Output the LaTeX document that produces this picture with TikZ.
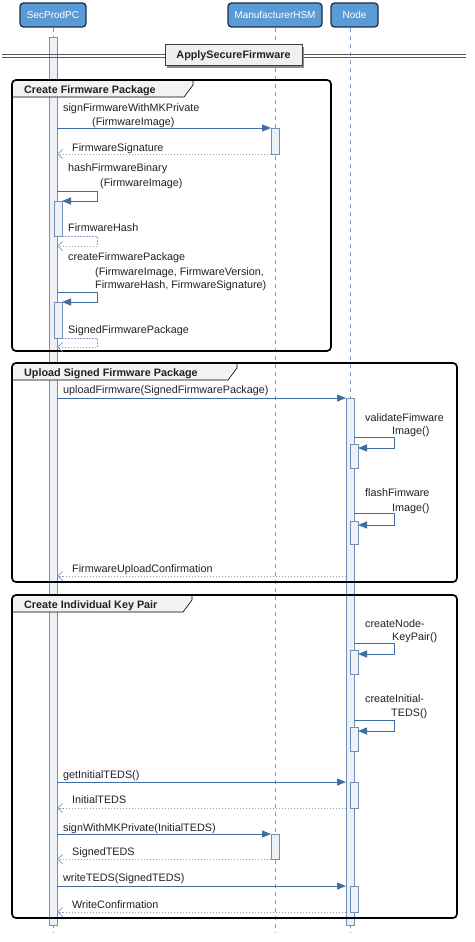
\documentclass[tikz,border=0pt]{standalone}
\usepackage{fontspec}
\setmainfont{Liberation Sans}
\usetikzlibrary{arrows.meta}
\definecolor{hdrfill}{HTML}{5B9BD5}
\definecolor{hdrdraw}{HTML}{1C324D}
\definecolor{life}{HTML}{7E9BC0}
\definecolor{actfill}{HTML}{EDF0F4}
\definecolor{actdraw}{HTML}{7190B8}
\definecolor{msg}{HTML}{3F6E9F}
\definecolor{ret}{HTML}{8AA3C4}
\definecolor{tabfill}{HTML}{F2F2F2}
\definecolor{lbltext}{HTML}{222222}
\definecolor{titlefill}{HTML}{EFEFEF}
\tikzset{
 hdr/.style={draw=hdrdraw, line width=1.3pt, fill=hdrfill, rounded corners=3.5pt, text=white, font=\fontsize{10}{12}\selectfont, minimum height=24pt, inner sep=0pt},
 lifeline/.style={draw=life, line width=0.9pt, dash pattern=on 4pt off 4pt},
 act/.style={draw=actdraw, fill=actfill, line width=0.8pt, inner sep=0pt, outer sep=0pt, minimum width=8pt, anchor=north west},
 call/.style={draw=msg, line width=0.9pt, -{Triangle[length=9pt,width=7pt]}},
 retn/.style={draw=ret, line width=0.8pt, dash pattern=on 1.5pt off 1.5pt, -{Straight Barb[length=5pt,width=9pt,line width=0.8pt]}},
 lbl/.style={anchor=base west, inner sep=0pt, font=\fontsize{10.8}{13}\selectfont, text=lbltext},
 tablbl/.style={anchor=base west, inner sep=0pt, font=\bfseries\fontsize{10.8}{13}\selectfont, text=lbltext},
 frm/.style={draw=black, line width=1.7pt, rounded corners=4pt},
 tabline/.style={draw=black, line width=0.6pt},
 titlebox/.style={draw=black!75, fill=titlefill, line width=1pt, minimum width=137pt, minimum height=21pt, inner sep=0pt, font=\bfseries\fontsize{10.8}{13}\selectfont, text=lbltext},
}
\begin{document}
\begin{tikzpicture}[x=1pt,y=-1pt]
\fill[white] (0,0) rectangle (474,942);
\useasboundingbox (0,0) rectangle (474,942);

% participants
\node[hdr, minimum width=66pt] (pc) at (53,15) {SecProdPC};
\node[hdr, minimum width=94pt] (hsm) at (275,15) {ManufacturerHSM};
\node[hdr, minimum width=47pt] (nd) at (354.5,15) {Node};

% lifelines
\coordinate (pcend) at (53,932);
\coordinate (hsmend) at (275,932);
\coordinate (ndend) at (350,932);
\draw[lifeline] (pc.south) -- (pcend);
\draw[lifeline] (hsm.south) -- (hsmend);
\draw[lifeline] (ndend |- nd.south) -- (ndend);

% activation bars
\node[act, minimum height=888pt] (pcbar) at (49,37) {};
\node[act, minimum height=527pt] (ndbar) at (346,398) {};
\node[act, minimum height=26pt] (hsm1) at (271,128) {};
\node[act, minimum height=35pt] (pcn1) at (54,201) {};
\node[act, minimum height=36pt] (pcn2) at (54,302) {};
\node[act, minimum height=24pt] (nn1) at (350,444) {};
\node[act, minimum height=23pt] (nn2) at (350,521) {};
\node[act, minimum height=24pt] (nn3) at (350,650) {};
\node[act, minimum height=24pt] (nn4) at (350,727) {};
\node[act, minimum height=26pt] (nn5) at (350,782) {};
\node[act, minimum height=25pt] (hsm2) at (271,834) {};
\node[act, minimum height=26pt] (nn6) at (350,886) {};

% divider
\draw[black!65, line width=0.8pt] (2,54.3) -- (466,54.3);
\draw[black!65, line width=0.8pt] (2,57.3) -- (466,57.3);
\fill[black!45] (167,47) rectangle (304,68);
\node[titlebox] (title) at (233.5,55.5) {ApplySecureFirmware};

% frame 1
\fill[tabfill] (13,81) -- (193,81) -- (193,85) -- (184,97) -- (13,97) -- cycle;
\draw[tabline] (12,97) -- (184,97) -- (193,85) -- (193,80);
\draw[frm] (12,80) rectangle (331,351);
\node[tablbl] (f1) at (24,93) {Create Firmware Package};

% frame 2
\fill[tabfill] (13,364) -- (237,364) -- (237,368) -- (228,380) -- (13,380) -- cycle;
\draw[tabline] (12,380) -- (228,380) -- (237,368) -- (237,363);
\draw[frm] (12,363) rectangle (457,582);
\node[tablbl] (f2) at (24,376) {Upload Signed Firmware Package};

% frame 3
\fill[tabfill] (13,596) -- (192,596) -- (192,600) -- (183,612) -- (13,612) -- cycle;
\draw[tabline] (12,612) -- (183,612) -- (192,600) -- (192,595);
\draw[frm] (12,595) rectangle (457,918);
\node[tablbl] (f3) at (24,608) {Create Individual Key Pair};

% messages
\draw[call] (pcbar.east |- hsm1.north) -- (hsm1.north west);
\draw[retn] (hsm1.south west) -- (pcbar.east |- hsm1.south);
\draw[call] (pcbar.east |- 0,191) -- (97,191) -- (97,201) -- (pcn1.north east);
\draw[retn] (pcn1.south east) -- (97,236) -- (97,246) -- (pcbar.east |- 0,246);
\draw[call] (pcbar.east |- 0,292) -- (97,292) -- (97,302) -- (pcn2.north east);
\draw[retn] (pcn2.south east) -- (97,338) -- (97,347) -- (pcbar.east |- 0,347);
\draw[call] (pcbar.east |- ndbar.north) -- (ndbar.north west);
\draw[call] (ndbar.east |- 0,437) -- (394,437) -- (394,448) -- (nn1.east |- 0,448);
\draw[call] (ndbar.east |- 0,513) -- (394,513) -- (394,525) -- (nn2.east |- 0,525);
\draw[retn] (ndbar.west |- 0,576) -- (pcbar.east |- 0,576);
\draw[call] (ndbar.east |- 0,643) -- (394,643) -- (394,654) -- (nn3.east |- 0,654);
\draw[call] (ndbar.east |- 0,720) -- (394,720) -- (394,731) -- (nn4.east |- 0,731);
\draw[call] (pcbar.east |- nn5.north) -- (ndbar.west |- nn5.north);
\draw[retn] (ndbar.west |- nn5.south) -- (pcbar.east |- nn5.south);
\draw[call] (pcbar.east |- hsm2.north) -- (hsm2.north west);
\draw[retn] (hsm2.south west) -- (pcbar.east |- hsm2.south);
\draw[call] (pcbar.east |- nn6.north) -- (ndbar.west |- nn6.north);
\draw[retn] (ndbar.west |- nn6.south) -- (pcbar.east |- nn6.south);

% labels
\node[lbl] (m1a) at (63,111) {signFirmwareWithMKPrivate};
\node[lbl] (m1b) at (92,125) {(FirmwareImage)};
\node[lbl] (r1) at (72,151) {FirmwareSignature};
\node[lbl] (m2a) at (68,171) {hashFirmwareBinary};
\node[lbl] (m2b) at (100,186) {(FirmwareImage)};
\node[lbl] (r2) at (68,231) {FirmwareHash};
\node[lbl] (m3a) at (68,260) {createFirmwarePackage};
\node[lbl] (m3b) at (95,275) {(FirmwareImage, FirmwareVersion,};
\node[lbl] (m3c) at (95,288) {FirmwareHash, FirmwareSignature)};
\node[lbl] (r3) at (68,333) {SignedFirmwarePackage};
\node[lbl] (m4) at (63,393) {uploadFirmware(SignedFirmwarePackage)};
\node[lbl] (m5a) at (365,421) {validateFimware};
\node[lbl] (m5b) at (392,434) {Image()};
\node[lbl] (m6a) at (365,496) {flashFimware};
\node[lbl] (m6b) at (392,511) {Image()};
\node[lbl] (r4) at (72,572) {FirmwareUploadConfirmation};
\node[lbl] (m7a) at (365,627) {createNode-};
\node[lbl] (m7b) at (392,640) {KeyPair()};
\node[lbl] (m8a) at (365,702) {createInitial-};
\node[lbl] (m8b) at (391,716) {TEDS()};
\node[lbl] (m9) at (63,778) {getInitialTEDS()};
\node[lbl] (r5) at (72,803) {InitialTEDS};
\node[lbl] (m10) at (63,831) {signWithMKPrivate(InitialTEDS)};
\node[lbl] (r6) at (72,855) {SignedTEDS};
\node[lbl] (m11) at (63,881) {writeTEDS(SignedTEDS)};
\node[lbl] (r7) at (72,908) {WriteConfirmation};
\end{tikzpicture}
\end{document}
